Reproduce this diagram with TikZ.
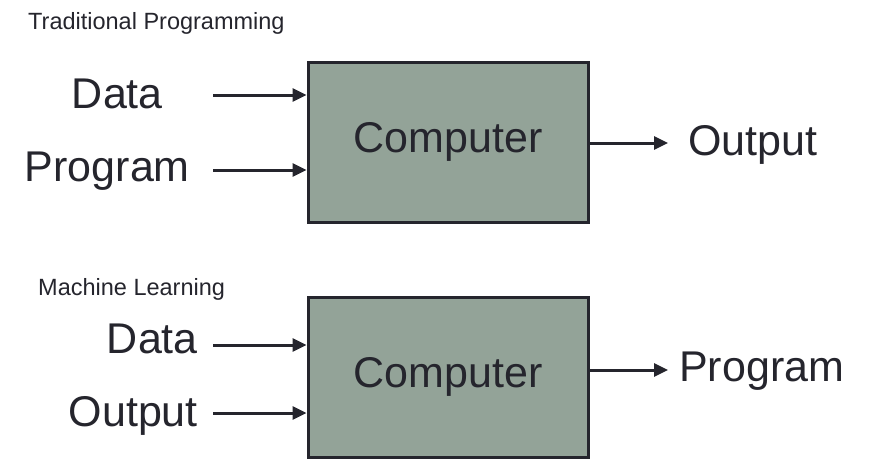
\documentclass[tikz,border=0pt]{standalone}
\usepackage{fontspec}
\setmainfont{Liberation Sans}
\usetikzlibrary{arrows.meta}
\definecolor{ink}{HTML}{25252D}
\definecolor{boxc}{HTML}{93A398}
\begin{document}
\begin{tikzpicture}[x=1pt,y=-1pt,
  box/.style={draw=ink,line width=3pt,fill=boxc,minimum width=280pt,minimum height=160pt,font=\fontsize{43}{45}\selectfont,text=ink,inner sep=0},
  big/.style={font=\fontsize{43}{45}\selectfont,text=ink,inner sep=0},
  small/.style={font=\fontsize{23.5}{25}\selectfont,text=ink,inner sep=0,anchor=west},
  arr/.style={draw=ink,line width=3pt,-{Triangle[length=14pt,width=13pt]}}]
\useasboundingbox (0,0) rectangle (869,467);
\node[small] (t1) at (28,23) {Traditional Programming};
\node[small] (t2) at (38,289) {Machine Learning};
\node[box] (c1) at (448,142) {\raisebox{-3pt}{Computer}};
\node[box] (c2) at (448,377) {\raisebox{-3pt}{Computer}};
\node[big,anchor=east] (d1) at (163,94) {Data};
\node[big,anchor=east] (p1) at (190,171) {Program};
\node[big,anchor=west] (o1) at (688,145) {Output};
\node[big,anchor=east] (d2) at (198,339) {Data};
\node[big,anchor=east] (o2) at (198,416) {Output};
\node[big,anchor=west] (p2) at (679,371) {Program};
\coordinate (a1) at (213,95); \coordinate (a2) at (213,170);
\coordinate (a3) at (213,345); \coordinate (a4) at (213,413);
\draw[arr] (a1) -- (a1 -| c1.west);
\draw[arr] (a2) -- (a2 -| c1.west);
\draw[arr] (a3) -- (a3 -| c2.west);
\draw[arr] (a4) -- (a4 -| c2.west);
\draw[arr] (c1.east |- 0,143) -- (668,143);
\draw[arr] (c2.east |- 0,370) -- (668,370);
\end{tikzpicture}
\end{document}
